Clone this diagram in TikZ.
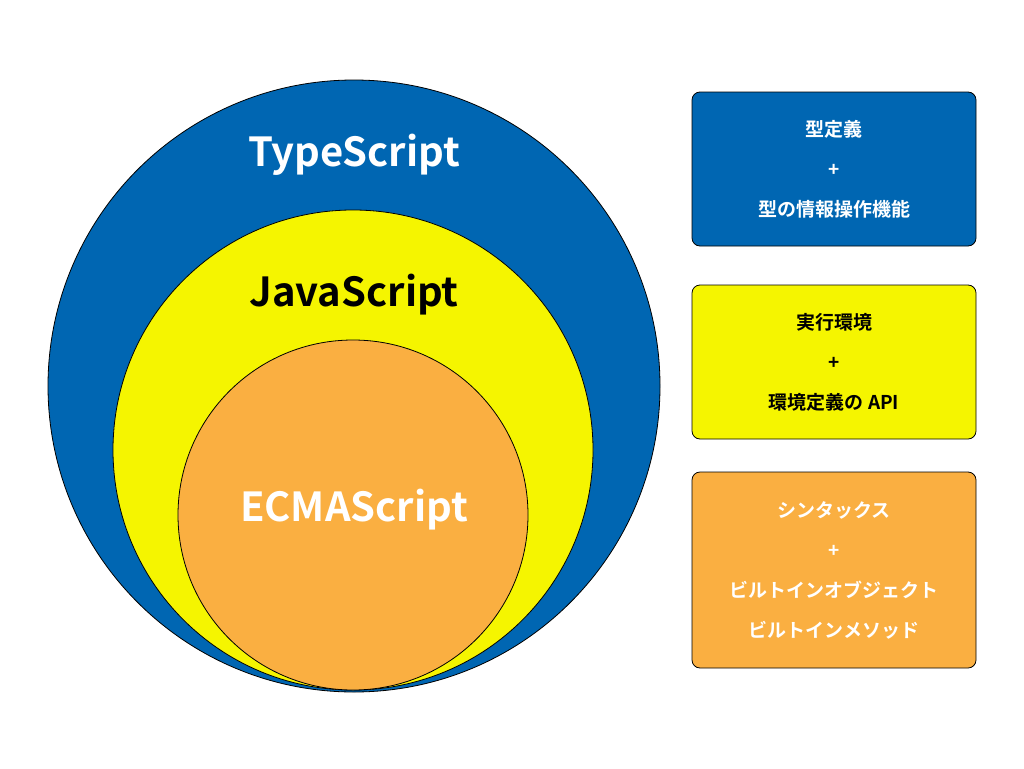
\documentclass[tikz,border=0pt]{standalone}
\usepackage{fontspec}
\setmainfont{Noto Sans CJK JP}[BoldFont={Noto Sans CJK JP Bold}]
\definecolor{tsblue}{RGB}{0,102,178}
\definecolor{jsyellow}{RGB}{245,245,0}
\definecolor{esorange}{RGB}{250,175,65}
\tikzset{
  ring/.style={draw=black, line width=0.8pt},
  title/.style={font=\fontsize{40}{44}\selectfont\bfseries},
  infobox/.style={draw=black, line width=0.8pt, rounded corners=8pt, minimum width=284pt, align=center, font=\fontsize{19}{40}\selectfont\bfseries},
}
\begin{document}
\begin{tikzpicture}[x=1pt, y=-1pt]
		\useasboundingbox (0, 0) rectangle (1024, 768);
		\fill[ring, fill=tsblue] (354, 386) circle (306);
		\fill[ring, fill=jsyellow] (353, 450) circle (240);
		\fill[ring, fill=esorange] (353, 515) circle (175);
		\node[title, white] (ts) at (354, 155) {TypeScript};
		\node[title, black] (js) at (354, 295) {JavaScript};
		\node[title, white] (es) at (354, 510) {ECMAScript};
		\node[infobox, fill=tsblue, text=white, minimum height=154pt] (tsbox) at (834, 169)
			{型定義\\+\\型の情報操作機能};
		\node[infobox, fill=jsyellow, text=black, minimum height=154pt] (jsbox) at (834, 362)
			{実行環境\\+\\環境定義の API};
		\node[infobox, fill=esorange, text=white, minimum height=196pt] (esbox) at (834, 570)
			{シンタックス\\+\\ビルトインオブジェクト\\ビルトインメソッド};
\end{tikzpicture}
\end{document}
